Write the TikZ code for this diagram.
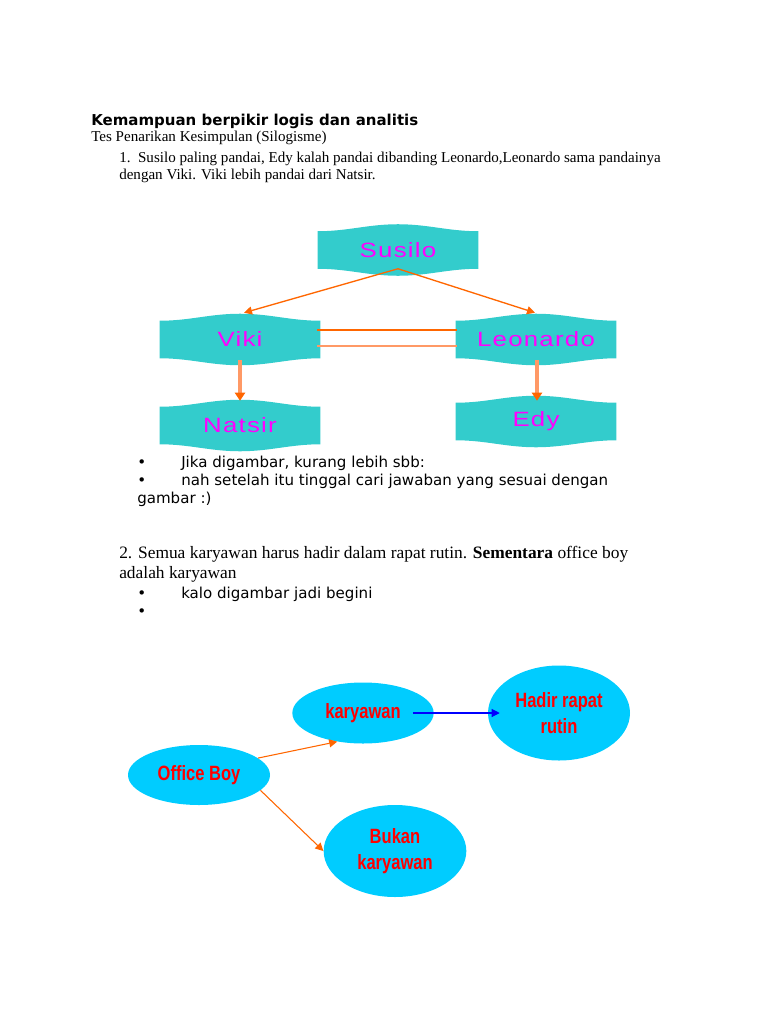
\documentclass[tikz,border=0pt]{standalone}
\usepackage{fontspec}
\setmainfont{Liberation Serif}
\setsansfont{DejaVu Sans}
\newfontfamily\boxfont[LetterSpace=6,FakeStretch=1.25]{Liberation Sans}
\newfontfamily\ovalfont[FakeStretch=0.8]{Liberation Sans}
\usetikzlibrary{arrows.meta,shapes.geometric,positioning}
\definecolor{boxteal}{RGB}{51,204,204}
\definecolor{boxtext}{RGB}{255,0,255}
\definecolor{ovalblue}{RGB}{0,204,255}
\definecolor{arrorange}{RGB}{255,102,0}
\definecolor{lightorange}{RGB}{255,153,102}
\pgfdeclarelayer{bg}
\pgfsetlayers{bg,main}
\tikzstyle{wavebox}=[minimum width=120pt,minimum height=27.75pt,inner sep=0pt,text=boxtext,font=\boxfont\fontsize{15.5}{16}\selectfont]
\tikzstyle{oval}=[ellipse,fill=ovalblue,inner sep=0pt,text=red,align=center,font=\ovalfont\bfseries\fontsize{15.5}{19}\selectfont]
\tikzstyle{post}=[-{Triangle[length=6pt,width=6pt]},arrorange,line width=1pt]
\tikzstyle{drop}=[lightorange,line width=2.5pt,-{Triangle[length=6pt,width=7.5pt,color=arrorange]}]
\tikzstyle{txt}=[anchor=base west,inner sep=0pt]
\begin{document}
\begin{tikzpicture}[x=0.75pt,y=-0.75pt]
    \useasboundingbox (0,0) rectangle (768,1024);

    % text of the page
    \node[txt,font=\sffamily\bfseries\fontsize{11.25}{13}\selectfont] (title) at (91,125) {Kemampuan berpikir logis dan analitis};
    \node[txt,font=\fontsize{11.3}{13}\selectfont] (sub) at (91,142) {Tes Penarikan Kesimpulan (Silogisme)};
    \node[txt,font=\fontsize{11.3}{13}\selectfont] (q1a) at (119,162) {1.\ \ Susilo paling pandai, Edy kalah pandai dibanding Leonardo,Leonardo sama pandainya};
    \node[txt,font=\fontsize{11.3}{13}\selectfont] (q1b) at (119,179) {dengan Viki. Viki lebih pandai dari Natsir.};

    % first picture
    \node[wavebox] (susilo)   at (398,250) {Susilo};
    \node[wavebox] (viki)     at (240,339.5) {Viki};
    \node[wavebox] (leonardo) at (536,339.5) {Leonardo};
    \node[wavebox] (natsir)   at (240,425.5) {Natsir};
    \node[wavebox] (edy)      at (536,421.5) {Edy};
    \begin{pgfonlayer}{bg}
    \foreach \n in {susilo,viki,leonardo,natsir,edy}
        \fill[boxteal] (\n.north west) .. controls ([shift={(30,0)}]\n.north west) and ([shift={(-30,-7)}]\n.north) .. ([shift={(0,-7)}]\n.north)
            .. controls ([shift={(30,-7)}]\n.north) and ([shift={(-30,0)}]\n.north east) .. (\n.north east)
            -- (\n.south east) .. controls ([shift={(-30,0)}]\n.south east) and ([shift={(30,7)}]\n.south) .. ([shift={(0,7)}]\n.south)
            .. controls ([shift={(-30,7)}]\n.south) and ([shift={(30,0)}]\n.south west) .. (\n.south west) -- cycle;
    \end{pgfonlayer}

    \path[post] (susilo.south) edge ([shift={(4,-8)}]viki.north);
    \path[post] (susilo.south) edge ([shift={(-1,-8)}]leonardo.north);
    \draw[drop] ([shift={(0,2)}]viki.south) -- ([shift={(0,-6)}]natsir.north);
    \draw[drop] ([shift={(1,2)}]leonardo.south) -- ([shift={(1,-2)}]edy.north);
    \draw[arrorange,line width=0.9pt] ([shift={(-3,-9.5)}]viki.east) -- ([shift={(1,-9.5)}]leonardo.west);
    \draw[lightorange,line width=1.5pt] ([shift={(-3,6.5)}]viki.east) -- ([shift={(1,6.5)}]leonardo.west);

    \node[txt,font=\sffamily\fontsize{11.3}{13}\selectfont] (b1) at (137,467) {\textbullet};
    \node[txt,font=\sffamily\fontsize{11.3}{13}\selectfont] (t1) at (181,467) {Jika digambar, kurang lebih sbb:};
    \node[txt,font=\sffamily\fontsize{11.3}{13}\selectfont] (b2) at (137,485) {\textbullet};
    \node[txt,font=\sffamily\fontsize{11.3}{13}\selectfont] (t2) at (181,485) {nah setelah itu tinggal cari jawaban yang sesuai dengan};
    \node[txt,font=\sffamily\fontsize{11.3}{13}\selectfont] (t3) at (137,503) {gambar :)};

    \node[txt,font=\fontsize{13.05}{15}\selectfont] (q2a) at (119,558) {2. Semua karyawan harus hadir dalam rapat rutin. \textbf{Sementara} office boy};
    \node[txt,font=\fontsize{13.05}{15}\selectfont] (q2b) at (119,578) {adalah karyawan};
    \node[txt,font=\sffamily\fontsize{11.3}{13}\selectfont] (b3) at (137,598) {\textbullet};
    \node[txt,font=\sffamily\fontsize{11.3}{13}\selectfont] (t4) at (181,598) {kalo digambar jadi begini};
    \node[txt,font=\sffamily\fontsize{11.3}{13}\selectfont] (b4) at (137,616) {\textbullet};

    % second picture
    \node[oval,minimum width=106.5pt,minimum height=45pt] (office) at (199,775) {Office Boy};
    \node[oval,minimum width=106pt,minimum height=45.75pt] (karyawan) at (363,713) {karyawan};
    \node[oval,minimum width=106.5pt,minimum height=71.25pt] (hadir) at (559,713) {Hadir rapat\\rutin};
    \node[oval,minimum width=107pt,minimum height=69pt] (bukan) at (395,851) {Bukan\\karyawan};

    \path[post,line width=0.8pt] (office.16) edge (karyawan.-132);
    \path[post,line width=0.8pt] (office.-14) edge (bukan.west);
    \draw[blue,line width=0.8pt,-{Triangle[length=6pt,width=6pt]}] ([shift={(-21,0)}]karyawan.east) -- ([shift={(12,0)}]hadir.west);
\end{tikzpicture}
\end{document}
